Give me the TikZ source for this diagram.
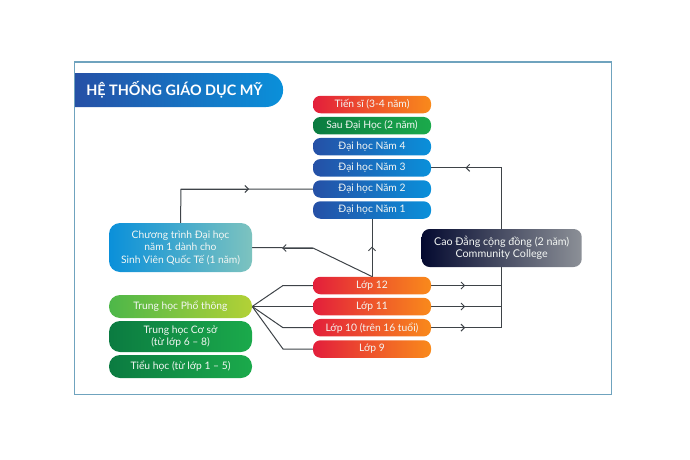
\documentclass[tikz,border=0pt]{standalone}
\usepackage{fontspec}
\setmainfont{Lato}
\usetikzlibrary{arrows.meta,backgrounds,shapes.misc}

\definecolor{frameblue}{HTML}{6FA3BE}
\definecolor{linegray}{HTML}{3E4348}
\definecolor{textwhite}{HTML}{F4F7F4}
\definecolor{blueA}{HTML}{2550A6}
\definecolor{blueB}{HTML}{0A90DA}
\definecolor{redA}{HTML}{E31F3B}
\definecolor{orangeB}{HTML}{F98A1B}
\definecolor{greenA}{HTML}{0B7B41}
\definecolor{greenB}{HTML}{1BAA4B}
\definecolor{limeA}{HTML}{4DB749}
\definecolor{limeB}{HTML}{B3D136}
\definecolor{tealB}{HTML}{7DC3BF}
\definecolor{navyA}{HTML}{040A30}
\definecolor{navyB}{HTML}{8C9097}

\tikzset{
    box/.style={rounded corners=7.5pt,minimum width=118pt,minimum height=17.5pt,
        inner sep=0pt,text=textwhite,font=\fontsize{10.3}{12.5}\selectfont,align=center},
    bigbox/.style={box,rounded corners=11pt,minimum width=143pt},
    bluebox/.style={box,left color=blueA,right color=blueB},
    redbox/.style={box,left color=redA,right color=orangeB},
    greenbox/.style={left color=greenA,right color=greenB},
    link/.style={draw=linegray,line width=1pt},
    tip/.style={link,-{Straight Barb[length=3.5pt,width=7pt]}},
}

\begin{document}
\begin{tikzpicture}[x=1pt,y=-1pt]
    \useasboundingbox (0,0) rectangle (690,460);

    % Frame
    \draw[frameblue,line width=1pt] (74,62) rectangle (611.5,394);

    % Title
    \node [rounded rectangle,rounded rectangle west arc=none,minimum width=208pt,minimum height=34pt,
        inner sep=0pt,left color=blueA,right color=blueB,text=white,font=\fontsize{14.4}{18}\selectfont\bfseries]
        (title) at (178,90) {HỆ THỐNG GIÁO DỤC MỸ\hspace*{7pt}};

    % Center column
    \node [redbox] (tiensi) at (372,104.5) {Tiến sĩ (3-4 năm)};
    \node [box,greenbox] (saudh) at (372,125.7) {Sau Đại Học (2 năm)};
    \foreach \nam/\y in {4/146.7,3/167.8,2/189,1/210} {
        \node [bluebox] (dh\nam) at (372,\y) {Đại học Năm \nam};
    }
    \node [redbox] (lop12) at (372,285.5) {Lớp 12};
    \node [redbox] (lop11) at (372,306.5) {Lớp 11};
    \node [redbox] (lop10) at (372,327.7) {Lớp 10 (trên 16 tuổi)};
    \node [redbox] (lop9) at (372,349) {Lớp 9};

    % Left column
    \node [bigbox,minimum height=49pt,left color=blueB,right color=tealB] (quocte) at (180.5,247.5)
        {Chương trình Đại học\\năm 1 dành cho\\Sinh Viên Quốc Tế (1 năm)};
    \node [bigbox,minimum height=23pt,left color=limeA,right color=limeB] (thpt) at (180.5,306.5) {Trung học Phổ thông};
    \node [bigbox,greenbox,minimum height=31pt] (thcs) at (180.5,336.5) {Trung học Cơ sở\\(từ lớp 6 – 8)};
    \node [bigbox,greenbox,minimum height=23pt] (tieuhoc) at (180.5,366.5) {Tiểu học (từ lớp 1 – 5)};

    % Community college
    \node [bigbox,minimum width=160pt,minimum height=38pt,rounded corners=8pt,left color=navyA,right color=navyB,
        font=\fontsize{10.7}{12.5}\selectfont]
        (college) at (501.7,248) {Cao Đẳng cộng đồng (2 năm)\\Community College};

    % Connectors stay behind the boxes
    \begin{scope}[on background layer]
        \coordinate (railtop) at (501.5,167.8);
        \coordinate (railend) at (501.5,327.7);
        \coordinate (kink) at (313,248);
        \coordinate (corner) at (181,189);
        \foreach \lop in {12,11,10} {
            \draw[tip] (lop\lop.east) -- ++(34,0);
            \draw[link] (lop\lop.east) -- (railend |- lop\lop.east);
        }
        \draw[link] (railend) -- (railtop) -- (dh3.east);
        \draw[tip] (railtop) -- ++(-36,0);

        % Upper links
        \draw[link] (lop12.north) -- (dh1.south);
        \draw[tip] (lop12.north) -- ++(0,-30);
        \draw[link] (lop12.north) -- (kink) -- (quocte.east);
        \draw[tip] (kink) -- ++(-31,0);
        \draw[link] (quocte.north) -- (corner) -- (dh2.west);
        \draw[tip] (corner) -- ++(68,0);

        % Fan out of high school
        \draw[link] (thpt.east) -- (283,285.5) -- (lop12.west);
        \draw[link] (thpt.east) -- (lop11.west);
        \draw[link] (thpt.east) -- (283,327.7) -- (lop10.west);
        \draw[link] (thpt.east) -- (283,349) -- (lop9.west);
    \end{scope}
\end{tikzpicture}
\end{document}
